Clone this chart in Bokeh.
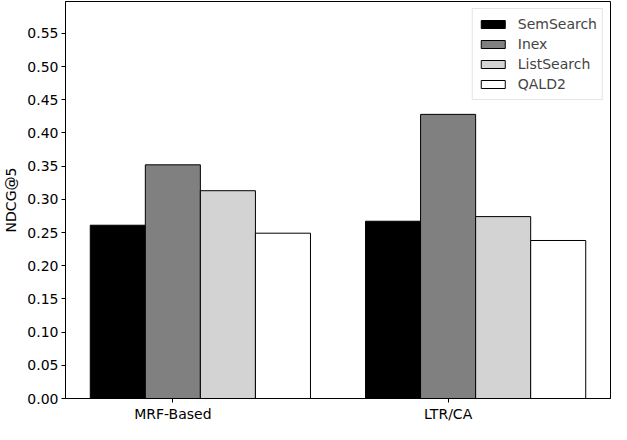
from bokeh.plotting import figure
from bokeh.models import Range1d, FixedTicker, PrintfTickFormatter, ColumnDataSource, Legend
from bokeh.embed import file_html
from bokeh.resources import INLINE

# ---- data ----
groups = ["MRF-Based", "LTR/CA"]
series_names = ["SemSearch", "Inex", "ListSearch", "QALD2"]
semsearch = [0.261, 0.267]
inex = [0.352, 0.428]
listsearch = [0.313, 0.274]
qald2 = [0.249, 0.238]
y_ticks = [0.00, 0.05, 0.10, 0.15, 0.20, 0.25, 0.30, 0.35, 0.40, 0.45, 0.50, 0.55]

series_values = [semsearch, inex, listsearch, qald2]
fills = ["#000000", "#808080", "#d3d3d3", "#ffffff"]

FONT = "DejaVu Sans"
FS = "14px"
bar_w = 0.2
offsets = [-1, 0, 1, 2]

p = figure(width=611, height=424, output_backend="svg", toolbar_location=None,
           x_range=Range1d(-0.39, 1.59), y_range=Range1d(0, 0.598),
           min_border_left=0, min_border_right=1, min_border_top=1, min_border_bottom=0)

base = list(range(len(groups)))
renderers = []
for name, vals, col, off in zip(series_names, series_values, fills, offsets):
    src = ColumnDataSource(dict(x=[b + off * bar_w for b in base], top=vals))
    r = p.vbar(x="x", top="top", bottom=0, width=bar_w, source=src,
               fill_color=col, line_color="black", line_width=1)
    renderers.append((name, [r]))

legend = Legend(items=renderers, location="top_right")
legend.label_text_font = FONT
legend.label_text_font_size = FS
legend.glyph_width = 30
legend.glyph_height = 10
legend.label_height = 20
legend.label_standoff = 10
legend.spacing = 0
legend.padding = 5
legend.margin = 7
legend.border_line_color = "#cccccc"
legend.border_line_width = 1
legend.background_fill_alpha = 0.8
p.add_layout(legend)

p.xgrid.visible = False
p.ygrid.visible = False
p.outline_line_color = "black"
p.outline_line_width = 1
p.background_fill_color = "white"
p.border_fill_color = "white"

p.xaxis.ticker = FixedTicker(ticks=base)
p.xaxis.major_label_overrides = {i: g for i, g in zip(base, groups)}
p.xaxis.axis_label = None
p.xaxis.axis_label_standoff = 0
p.yaxis.ticker = FixedTicker(ticks=y_ticks)
p.yaxis.formatter = PrintfTickFormatter(format="%.2f")
p.yaxis.axis_label = "NDCG@5"
p.yaxis.axis_label_text_font_style = "normal"
p.yaxis.axis_label_standoff = 5

for ax in (p.xaxis[0], p.yaxis[0]):
    ax.major_label_text_font = FONT
    ax.major_label_text_font_size = FS
    ax.major_label_text_color = "black"
    ax.axis_label_text_font = FONT
    ax.axis_label_text_font_size = FS
    ax.axis_label_text_color = "black"
    ax.axis_line_color = "black"
    ax.major_tick_line_color = "black"
    ax.major_tick_in = 0
    ax.major_tick_out = 4
    ax.minor_tick_line_color = None
    ax.major_label_standoff = 3

open("out.html", "w").write(file_html(p, INLINE))
